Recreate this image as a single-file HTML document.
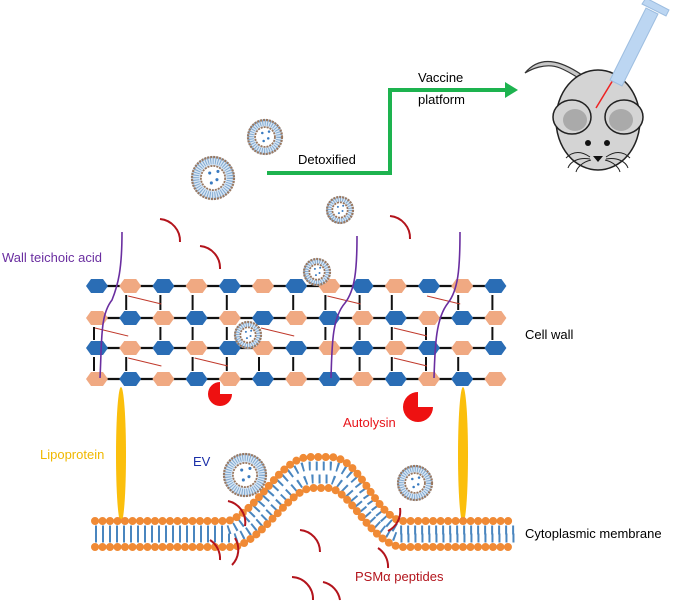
<!DOCTYPE html>
<html><head><meta charset="utf-8"><style>
html,body{margin:0;padding:0;background:#fff;width:685px;height:609px;overflow:hidden}
svg{display:block}
text{font-family:"Liberation Sans",Arial,sans-serif;font-size:13px}
</style></head><body>
<svg id="s" width="685" height="609" viewBox="0 0 685 609" xmlns="http://www.w3.org/2000/svg">
<polyline points="267,173 390,173 390,90 507,90" fill="none" stroke="#1db34f" stroke-width="4"/>
<polygon points="505,82 518,90 505,98" fill="#1db34f"/>
<text x="298" y="164">Detoxified</text>
<text x="418" y="82">Vaccine</text>
<text x="418" y="104">platform</text>
<g id="mouse">
<path d="M582,75 C560,60 540,55 525,73 C530,70 545,62 560,68 C570,72 578,78 585,82" fill="#c8c8c8" stroke="#333" stroke-width="1.2"/>
<ellipse cx="598" cy="120" rx="42" ry="50" fill="#d4d4d4" stroke="#222" stroke-width="1.5"/>
<ellipse cx="572" cy="117" rx="19" ry="17" fill="#d4d4d4" stroke="#222" stroke-width="1.5"/>
<ellipse cx="575" cy="120" rx="12" ry="11" fill="#aaa"/>
<ellipse cx="624" cy="117" rx="19" ry="17" fill="#d4d4d4" stroke="#222" stroke-width="1.5"/>
<ellipse cx="621" cy="120" rx="12" ry="11" fill="#aaa"/>
<circle cx="588" cy="143" r="3" fill="#111"/><circle cx="607" cy="143" r="3" fill="#111"/>
<path d="M593,156 L603,156 L598,162 Z" fill="#111"/>
<g stroke="#222" stroke-width="1" fill="none">
<path d="M590,157 C580,150 572,152 566,158"/><path d="M590,159 C578,157 570,162 568,168"/><path d="M591,160 C582,162 577,168 576,172"/>
<path d="M606,157 C616,150 624,152 630,158"/><path d="M606,159 C618,157 626,162 628,168"/><path d="M605,160 C614,162 619,168 620,172"/>
</g>
<line x1="596" y1="108" x2="613" y2="80" stroke="#e22" stroke-width="1.5"/>
<polygon points="610,80 622,86 658,14 646,8" fill="#bcd6f2" stroke="#9cbde0"/>
<polygon points="642,4 666,16 669,10 646,-2" fill="#bcd6f2" stroke="#9cbde0"/>
</g>
<text x="2" y="262" fill="#6a2ea0">Wall teichoic acid</text>
<text x="525" y="339">Cell wall</text>
<text x="40" y="459" fill="#f0b800">Lipoprotein</text>
<text x="193" y="466" fill="#1b2fa8">EV</text>
<text x="343" y="427" fill="#e8151b">Autolysin</text>
<text x="525" y="538">Cytoplasmic membrane</text>
<text x="355" y="581" fill="#b3141c">PSMα peptides</text>
<g id="gen"></g>
</svg>
<script>
(function(){
var g=document.getElementById('gen');
var h='';
var rows=[286,318,348,379], BL='#2a6db5', PE='#f0a982';
function cx(i){return 97+33.2*i;}
rows.forEach(function(y){h+='<line x1="97" y1="'+y+'" x2="497" y2="'+y+'" stroke="#111" stroke-width="2.2"/>';});
for(var r=0;r<3;r++){for(var i=0;i<13;i++){if((i*7+r*3)%5==0)continue;var x=cx(i)+(i%2?-4:-3);h+='<line x1="'+x+'" y1="'+(rows[r]+9)+'" x2="'+x+'" y2="'+(rows[r+1]-8)+'" stroke="#111" stroke-width="2"/>';}}
[[0,1],[0,7],[0,10],[1,0],[1,5],[1,9],[2,1],[2,9],[2,3]].forEach(function(a){var r=a[0],i=a[1];h+='<line x1="'+(cx(i)-2)+'" y1="'+(rows[r]+10)+'" x2="'+(cx(i+1)-2)+'" y2="'+(rows[r]+18)+'" stroke="#c0392b" stroke-width="1"/>';});
rows.forEach(function(y,r){for(var i=0;i<13;i++){var x=cx(i);var c=((i+r)%2==0)?BL:PE;h+='<polygon points="'+(x-11)+','+y+' '+(x-6)+','+(y-7)+' '+(x+6)+','+(y-7)+' '+(x+11)+','+y+' '+(x+6)+','+(y+7)+' '+(x-6)+','+(y+7)+'" fill="'+c+'"/>';}});
h+='<path d="M122,232 C122,270 118,285 112,300 C100,315 102,340 100,378" fill="none" stroke="#6a2ea0" stroke-width="1.6"/>';
h+='<path d="M357,236 C357,270 355,290 345,303 C332,318 332,345 331,378" fill="none" stroke="#6a2ea0" stroke-width="1.6"/>';
h+='<path d="M460,232 C460,270 458,290 448,303 C436,318 435,345 434,378" fill="none" stroke="#6a2ea0" stroke-width="1.6"/>';
h+='<ellipse cx="121" cy="455" rx="5" ry="68" fill="#fbbf0c"/>';
h+='<ellipse cx="463" cy="455" rx="5" ry="68" fill="#fbbf0c"/>';
function pac(x,y,r){return '<path d="M'+x+','+y+' L'+(x+r)+','+y+' A'+r+','+r+' 0 1 1 '+x+','+(y-r)+' Z" fill="#ee1111"/>';}
h+=pac(220,394,12)+pac(418,407,15);
var mTop="M95,521 L228,521 C258,512 280,457 310,457 L330,457 C360,457 372,510 400,521 L515,521";
var mBot="M95,547 L235,547 C265,538 290,489 312,488 L328,488 C350,489 368,540 400,547 L515,547";
var t1="M95,530 L228,530 C258,521 280,466 310,466 L330,466 C360,466 372,519 400,530 L515,530";
var t2="M95,538 L235,538 C265,529 290,480 312,479 L328,479 C350,480 368,531 400,538 L515,538";
[t1,t2].forEach(function(p){h+='<path d="'+p+'" fill="none" stroke="#4a86bf" stroke-width="9" stroke-dasharray="2 5"/>';});
[mTop,mBot].forEach(function(p){h+='<path d="'+p+'" fill="none" stroke="#f08a35" stroke-width="8" stroke-linecap="round" stroke-dasharray="0 7.5"/>';});
function ves(x,y,r){var s='<circle cx="'+x+'" cy="'+y+'" r="'+r+'" fill="#d8e6f4"/>';
s+='<circle cx="'+x+'" cy="'+y+'" r="'+(r*0.8)+'" fill="none" stroke="#7fa8d0" stroke-width="'+(r*0.35)+'" stroke-dasharray="1 1.5"/>';
s+='<circle cx="'+x+'" cy="'+y+'" r="'+(r-1)+'" fill="none" stroke="#9a7860" stroke-width="2.2" stroke-dasharray="2 1"/>';
s+='<circle cx="'+x+'" cy="'+y+'" r="'+(r*0.55)+'" fill="#fff" stroke="#9a7860" stroke-width="1.8" stroke-dasharray="2 1"/>';
[[-0.1,-0.15],[0.12,0.05],[-0.05,0.15],[0.15,-0.2]].forEach(function(d){s+='<circle cx="'+(x+d[0]*r*1.5)+'" cy="'+(y+d[1]*r*1.5)+'" r="'+Math.max(1,r*0.07)+'" fill="#3a7bc0"/>';});
return s;}
h+=ves(213,178,22)+ves(265,137,18)+ves(340,210,14)+ves(317,272,14)+ves(248,335,14)+ves(245,475,22)+ves(415,483,18);
function arc(x1,y1,x2,y2){return '<path d="M'+x1+','+y1+' A22,22 0 0 1 '+x2+','+y2+'" fill="none" stroke="#b3141c" stroke-width="2"/>';}
h+=arc(160,219,180,242)+arc(200,246,220,269)+arc(390,216,410,239);
h+=arc(228,501,245,526)+arc(235,538,232,565)+arc(400,508,388,531)+arc(378,548,388,568);
h+=arc(300,530,320,552)+arc(292,577,313,600)+arc(323,582,340,600)+arc(210,540,220,560);
g.innerHTML=h;
})();
</script>
</body></html>
